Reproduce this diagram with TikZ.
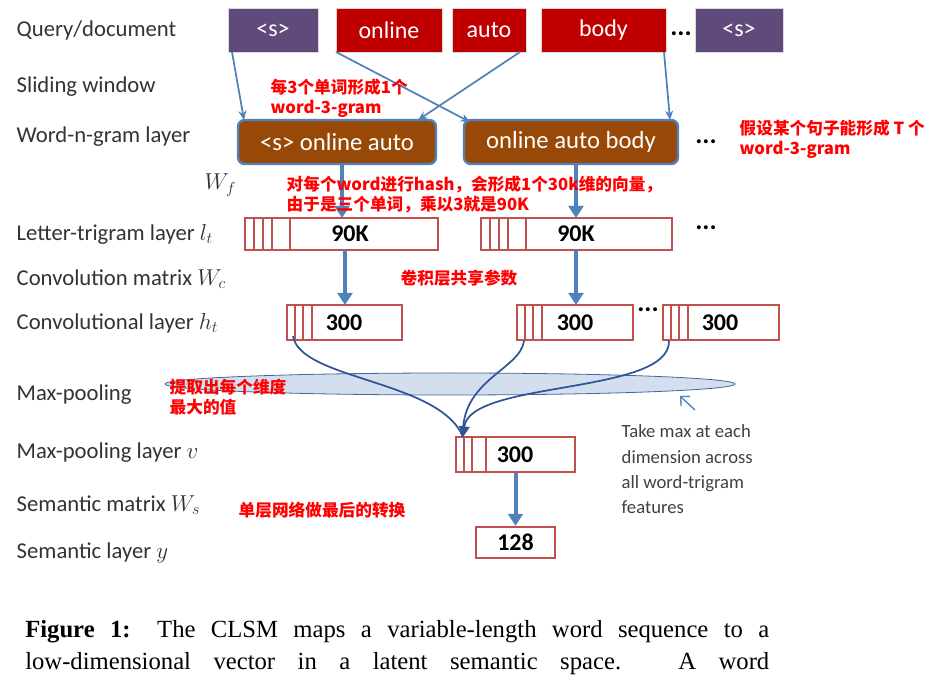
\documentclass[tikz,border=0pt]{standalone}
\usepackage{fontspec}
\setmainfont{Carlito}
\newfontfamily\cjk{Noto Sans CJK SC}
\newfontfamily\capfont{Liberation Serif}
\usetikzlibrary{arrows.meta}
\definecolor{purp}{HTML}{604A7B}
\definecolor{wred}{HTML}{C00000}
\definecolor{brn}{HTML}{984807}
\definecolor{ablue}{HTML}{4F81BD}
\definecolor{dblue}{HTML}{2F5597}
\definecolor{bred}{HTML}{C0504D}
\begin{document}
\begin{tikzpicture}[x=0.75pt,y=-0.75pt,
 lab/.style={anchor=west,font=\fontsize{17}{18}\selectfont,text=black!80},
 word/.style={draw=black!15,fill=#1,text=white,font=\fontsize{18}{18}\selectfont,inner sep=0},
 ng/.style={draw=ablue,line width=1.8pt,rounded corners=5pt,fill=brn,text=white,font=\fontsize{18.5}{18}\selectfont,inner sep=0},
 vec/.style={draw=bred,line width=1.8pt,fill=white,inner sep=0},
 num/.style={font=\bfseries\fontsize{18}{18}\selectfont},
 dots/.style={font=\bfseries\fontsize{20}{18}\selectfont},
 note/.style={anchor=west,text=red,font=\cjk\bfseries\fontsize{12.5}{15}\selectfont,align=left},
 thin/.style={ablue,line width=1.3pt,-{Stealth[length=7pt,width=6pt]}},
 thick/.style={ablue,line width=3pt,-{Triangle[length=9pt,width=11pt]}},
 cur/.style={dblue,line width=1.3pt}]
\useasboundingbox (0,0) rectangle (951,691);
% left labels
\node[lab] (l1) at (12,30) {Query/document};
\node[lab] (l2) at (12,87) {Sliding window};
\node[lab] (l3) at (12,137) {Word-n-gram layer};
\node[lab] (l4) at (200,185) {$W_f$};
\node[lab] (l5) at (12,234) {Letter-trigram layer $l_t$};
\node[lab] (l6) at (12,279) {Convolution matrix $W_c$};
\node[lab] (l7) at (12,323) {Convolutional layer $h_t$};
\node[lab] (l8) at (12,395) {Max-pooling};
\node[lab] (l9) at (12,453) {Max-pooling layer $v$};
\node[lab] (l10) at (12,505) {Semantic matrix $W_s$};
\node[lab] (l11) at (12,553) {Semantic layer $y$};
% words
\node[word=purp,minimum width=67.5pt,minimum height=33pt] (w1) at (273,30) {<s>};
\node[word=wred,minimum width=79.5pt,minimum height=33pt] (w2) at (389,30) {online};
\node[word=wred,minimum width=55.5pt,minimum height=33pt] (w3) at (489,30) {auto};
\node[word=wred,minimum width=93.75pt,minimum height=33pt] (w4) at (603.5,30) {body};
\node[dots] (d1) at (681,34) {...};
\node[word=purp,minimum width=66pt,minimum height=33pt] (w5) at (739,30) {<s>};
% ngram
\node[ng,minimum width=148.5pt,minimum height=33pt] (n1) at (337,142) {<s> online auto};
\node[ng,minimum width=160.5pt,minimum height=33pt] (n2) at (571,142) {online auto body};
\node[dots] (d2) at (706,142) {...};
\coordinate (a1) at (232,52); \coordinate (b1) at (244,120);
\coordinate (a2) at (336,52); \coordinate (b2) at (470,122);
\coordinate (a3) at (520,52); \coordinate (b3) at (418,120);
\coordinate (a4) at (664,52); \coordinate (b4) at (670,120);
\draw[thin] (a1)--(b1); \draw[thin] (a2)--(b2); \draw[thin] (a3)--(b3); \draw[thin] (a4)--(b4);
% letter trigram
\node[vec,minimum width=144.75pt,minimum height=24pt] (t1) at (341.5,234) {};
\node[vec,minimum width=143.25pt,minimum height=24pt] (t2) at (576.5,234) {};
\foreach \n/\x in {t1/245,t2/481}{
 \foreach \k in {9,18,27}{\draw[bred,line width=1.3pt] (\x+\k,218)--(\x+\k,250);}
 \draw[bred,line width=1.8pt] (\x+45,218)--(\x+45,250);}
\node[num] (k1) at (350,234) {90K};
\node[num] (k2) at (576,234) {90K};
\node[dots] (d3) at (706,228) {...};
\draw[thick] (342,164)--(342,218);
\draw[thick] (576,164)--(576,218);
% conv
\node[vec,minimum width=86.25pt,minimum height=26pt] (c1) at (344.5,322.5) {};
\node[vec,minimum width=87pt,minimum height=26pt] (c2) at (575,322.5) {};
\node[vec,minimum width=87pt,minimum height=26pt] (c3) at (721,322.5) {};
\foreach \x in {287,517,663}{
 \foreach \k in {8,16}{\draw[bred,line width=1.3pt] (\x+\k,305)--(\x+\k,340);}
 \draw[bred,line width=1.8pt] (\x+25,305)--(\x+25,340);}
\node[num] (h1) at (344,323) {300};
\node[num] (h2) at (575,323) {300};
\node[num] (h3) at (720,323) {300};
\node[dots] (d4) at (648,310) {...};
\draw[thick] (345,250)--(345,305);
\draw[thick] (576,250)--(576,305);
% ellipse
\draw[ablue!80!black,fill=ablue!25,line width=0.6pt] (450,384) ellipse [x radius=285, y radius=11];
% maxpool
\node[vec,minimum width=89.25pt,minimum height=26pt] (m) at (515.5,454.5) {};
\foreach \k in {8,16}{\draw[bred,line width=1.3pt] (456+\k,437)--(456+\k,472);}
\draw[bred,line width=1.8pt] (486,437)--(486,472);
\node[num] (mv) at (515,455) {300};
\coordinate (p1) at (293,336); \coordinate (p2) at (524,341); \coordinate (p3) at (669,341); \coordinate (q) at (463,437);
\draw[cur] (p1) .. controls (300,380) and (440,380) .. (q);
\draw[cur] (p2) .. controls (520,370) and (460,380) .. (q);
\draw[cur,-{Triangle[length=8pt,width=8pt]}] (p3) .. controls (670,395) and (470,380) .. (q);
% semantic
\node[vec,minimum width=59.25pt,minimum height=23.25pt] (s) at (515.5,542.5) {};
\node[num] (sv) at (515.5,542.5) {128};
\draw[thick] (m.south)--(s.north);
% take max
\coordinate (tm1) at (695,410); \coordinate (tm2) at (680,396);
\draw[ablue,line width=1pt,-{Straight Barb[length=5pt]}] (tm1)--(tm2);
\node[anchor=north west,align=left,text=black!75,font=\fontsize{14}{19}\selectfont] (tm) at (617,420) {Take max at each\\dimension across\\all word-trigram\\features};
% notes
\node[note] (r1) at (266,98) {每3个单词形成1个\\word-3-gram};
\node[note] (r2) at (735,139) {假设某个句子能形成 T 个\\word-3-gram};
\node[note] (r3) at (282,195) {对每个word进行hash，会形成1个30k维的向量，\\由于是三个单词，乘以3就是90K};
\node[note] (r4) at (396,278) {卷积层共享参数};
\node[note] (r5) at (165,397) {提取出每个维度\\最大的值};
\node[note] (r6) at (234,510) {单层网络做最后的转换};
% caption
\node[anchor=north west,text width=558pt,align=justify,inner sep=0,font=\capfont\fontsize{18.5}{24}\selectfont] (cap) at (25,620) {\hyphenpenalty=10000\parfillskip=0pt \textbf{Figure 1:} The CLSM maps a variable-length word sequence to a\linebreak low-dimensional vector in a latent semantic space. A word\par};
\end{tikzpicture}
\end{document}
